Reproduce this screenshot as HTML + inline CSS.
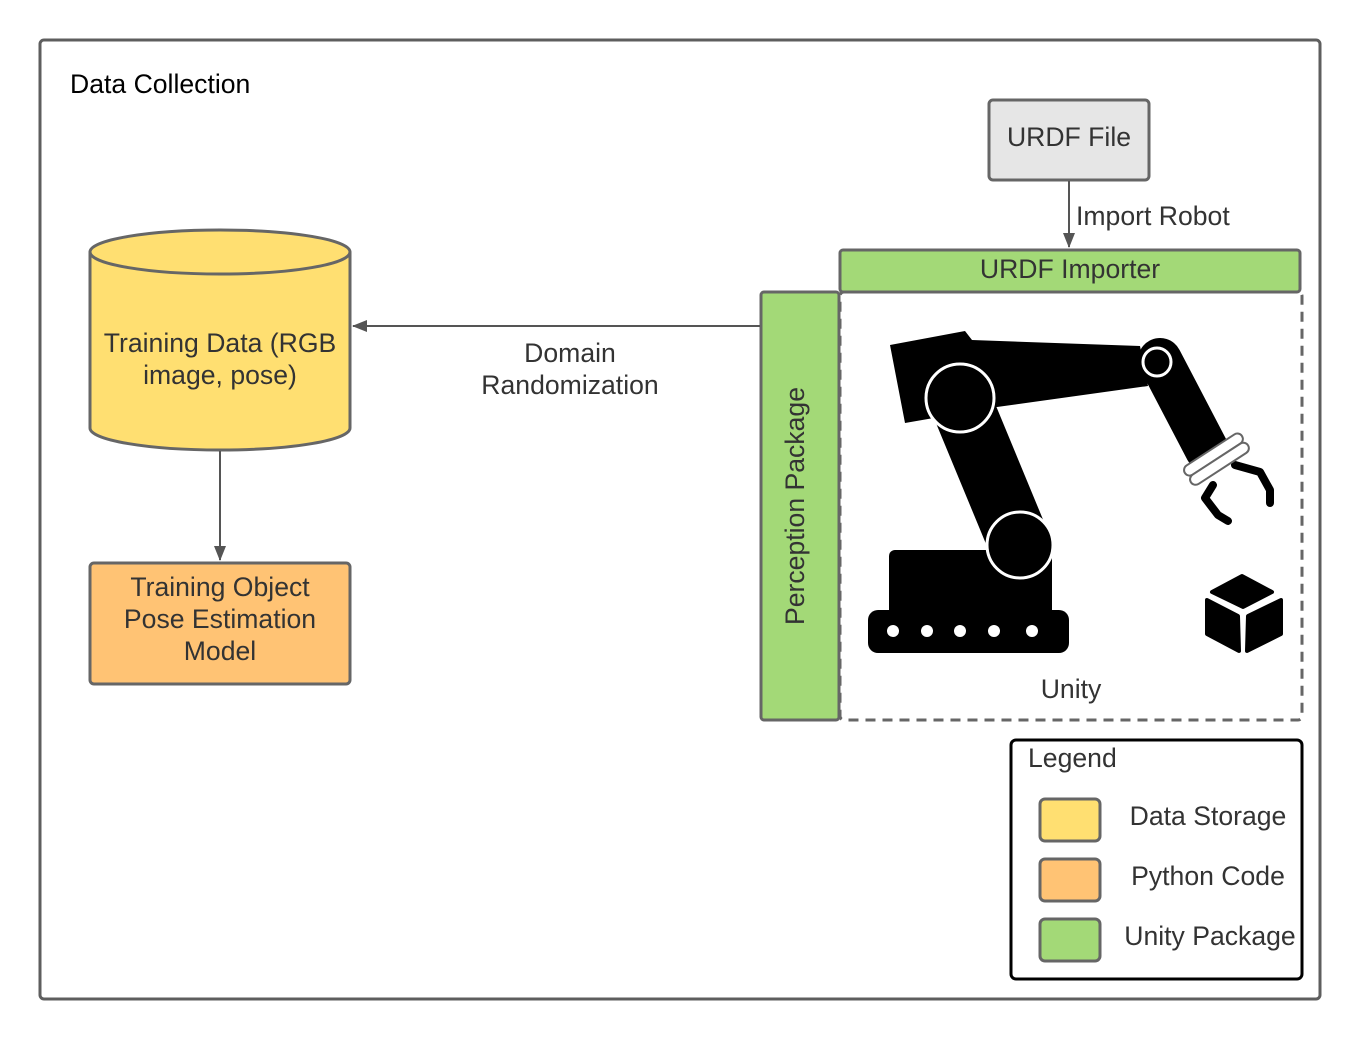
<!DOCTYPE html>
<html><head><meta charset="utf-8"><style>
html,body{margin:0;padding:0;background:#fff;}
svg{display:block;}
text{font-family:"Liberation Sans",Arial,sans-serif;fill:#333;}
</style></head><body>
<svg width="1360" height="1040" viewBox="0 0 1360 1040" xmlns="http://www.w3.org/2000/svg">
<defs>
<marker id="ah" markerWidth="16" markerHeight="16" refX="14" refY="6" orient="auto" markerUnits="userSpaceOnUse">
<path d="M0,0 L15,6 L0,12 z" fill="#555"/></marker>
</defs>
<rect x="40" y="40" width="1280" height="959" rx="4" fill="#fff" stroke="#5e5e5e" stroke-width="3"/>
<text x="70" y="93" font-size="26.6" style="fill:#000">Data Collection</text>

<rect x="989" y="100" width="160" height="80" rx="4" fill="#e6e6e6" stroke="#666" stroke-width="3"/>
<text x="1069" y="146" font-size="26.6" text-anchor="middle">URDF File</text>
<line x1="1069" y1="181" x2="1069" y2="247" stroke="#555" stroke-width="2" marker-end="url(#ah)"/>
<text x="1076" y="225" font-size="26.6">Import Robot</text>

<rect x="840" y="250" width="460" height="42" rx="3" fill="#a3d977" stroke="#666" stroke-width="3"/>
<text x="1070" y="278" font-size="26.6" text-anchor="middle">URDF Importer</text>

<rect x="840" y="292" width="462" height="428" rx="4" fill="none" stroke="#666" stroke-width="3" stroke-dasharray="10,7"/>
<text x="1071" y="698" font-size="26.6" text-anchor="middle">Unity</text>

<rect x="761" y="292" width="78" height="428" rx="3" fill="#a3d977" stroke="#666" stroke-width="3"/>
<text transform="translate(804,506) rotate(-90)" font-size="26.6" text-anchor="middle">Perception Package</text>

<line x1="760" y1="326" x2="353" y2="326" stroke="#555" stroke-width="2" marker-end="url(#ah)"/>
<text x="570" y="362" font-size="26.6" text-anchor="middle">Domain</text>
<text x="570" y="394" font-size="26.6" text-anchor="middle">Randomization</text>

<path d="M90,252 L90,428 A130,22 0 0 0 350,428 L350,252" fill="#ffdf71" stroke="#666" stroke-width="3"/>
<ellipse cx="220" cy="252" rx="130" ry="22" fill="#ffdf71" stroke="#666" stroke-width="3"/>
<text x="220" y="352" font-size="26.6" text-anchor="middle">Training Data (RGB</text>
<text x="220" y="384" font-size="26.6" text-anchor="middle">image, pose)</text>
<line x1="220" y1="451" x2="220" y2="560" stroke="#555" stroke-width="2" marker-end="url(#ah)"/>

<rect x="90" y="563" width="260" height="121" rx="4" fill="#ffc374" stroke="#666" stroke-width="3"/>
<text x="220" y="596" font-size="26.6" text-anchor="middle">Training Object</text>
<text x="220" y="628" font-size="26.6" text-anchor="middle">Pose Estimation</text>
<text x="220" y="660" font-size="26.6" text-anchor="middle">Model</text>

<g fill="#000">
<rect x="889" y="550" width="163" height="75" rx="6"/>
<rect x="868" y="610" width="201" height="43" rx="10"/>
<line x1="960" y1="400" x2="1020" y2="545" stroke="#000" stroke-width="62"/>
<path d="M890,345 L965,331 L972,340 L1140,346 L1148,386 L997,407 L905,423 Z"/>
<line x1="1160" y1="360" x2="1207" y2="450" stroke="#000" stroke-width="44" stroke-linecap="round"/>
<circle cx="1157" cy="362" r="20"/>
<circle cx="1157" cy="362" r="14" fill="none" stroke="#fff" stroke-width="3"/>
<circle cx="960" cy="398" r="34" stroke="#fff" stroke-width="3"/>
<circle cx="1020" cy="545" r="33" stroke="#fff" stroke-width="3"/>
<g fill="#fff">
<circle cx="893" cy="631" r="6"/><circle cx="927" cy="631" r="6"/><circle cx="960" cy="631" r="6"/><circle cx="994" cy="631" r="6"/><circle cx="1032" cy="631" r="6"/>
</g>
<polyline points="1235,465 1260,472 1270,490 1270,503" fill="none" stroke="#000" stroke-width="8" stroke-linecap="round" stroke-linejoin="round"/>
<polyline points="1213,485 1205,498 1218,515 1228,521" fill="none" stroke="#000" stroke-width="8" stroke-linecap="round" stroke-linejoin="round"/>
<g transform="translate(1217,460) rotate(-33)">
<rect x="-34" y="-12" width="68" height="11" rx="5.5" fill="#fff" stroke="#666" stroke-width="2"/>
<rect x="-34" y="-1" width="68" height="11" rx="5.5" fill="#fff" stroke="#666" stroke-width="2"/>
</g>
<path d="M1242,576 L1272,592 L1243,607 L1212,592 Z" stroke="#000" stroke-width="4" stroke-linejoin="round"/>
<path d="M1207,600 L1238,616 L1239,651 L1207,634 Z" stroke="#000" stroke-width="4" stroke-linejoin="round"/>
<path d="M1281,600 L1248,616 L1247,651 L1281,634 Z" stroke="#000" stroke-width="4" stroke-linejoin="round"/>
</g>

<rect x="1011" y="740" width="291" height="239" rx="5" fill="#fff" stroke="#000" stroke-width="3"/>
<text x="1028" y="767" font-size="26.6">Legend</text>
<rect x="1040" y="799" width="60" height="42" rx="5" fill="#ffdf71" stroke="#666" stroke-width="3"/>
<text x="1208" y="825" font-size="26.6" text-anchor="middle">Data Storage</text>
<rect x="1040" y="859" width="60" height="42" rx="5" fill="#ffc374" stroke="#666" stroke-width="3"/>
<text x="1208" y="885" font-size="26.6" text-anchor="middle">Python Code</text>
<rect x="1040" y="919" width="60" height="42" rx="5" fill="#a3d977" stroke="#666" stroke-width="3"/>
<text x="1210" y="945" font-size="26.6" text-anchor="middle">Unity Package</text>
</svg>
</body></html>
